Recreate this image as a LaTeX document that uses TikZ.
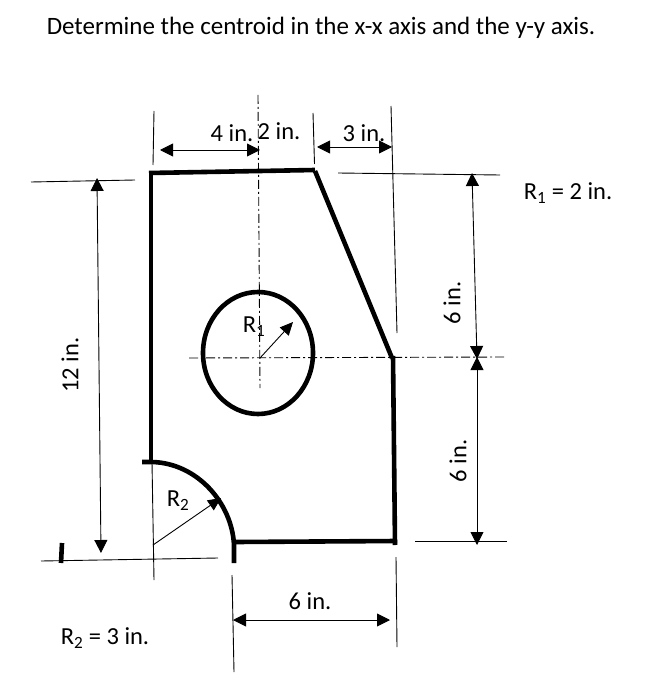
\documentclass[tikz,border=0pt]{standalone}
\usepackage{fontspec}
\setmainfont{Carlito}
\usepackage{tikz}
\usetikzlibrary{arrows.meta}
\tikzset{
    outline/.style={line width=4.6pt},
    thinline/.style={line width=0.9pt},
    centerline/.style={line width=0.9pt, dash pattern=on 9pt off 3pt on 2pt off 3pt},
    dimline/.style={line width=0.9pt, {Triangle[length=13pt,width=13pt]}-{Triangle[length=13pt,width=13pt]}},
    radline/.style={line width=0.9pt, -{Triangle[length=13pt,width=12pt]}},
    lbl/.style={inner sep=0, font=\fontsize{24.5}{28}\selectfont},
    titlelbl/.style={inner sep=0, font=\fontsize{25}{30}\selectfont}
}
\begin{document}
\begin{tikzpicture}[x=1pt, y=-1pt]
\useasboundingbox (0,0) rectangle (657,700);

\node[titlelbl] (title) at (321,28) {Determine the centroid in the x-x axis and the y-y axis.};

% part outline
\draw[outline, line join=bevel] (151,462) -- (151,173);
\draw[outline] (149,173) -- (315,170);
\draw[outline] (315,171) -- (392,358);
\draw[outline] (393,356) -- (395,545);
\draw[outline] (397,541) -- (235,542);
\draw[outline] (142,462) -- (152,462) .. controls (197,463) and (232,503) .. (234,545) -- (234,563);
\draw[outline] (258,353) ellipse [x radius=55, y radius=61];
\draw[outline] (62,543) -- (61,563);

% extension lines
\draw[thinline] (154,111) -- (153,165);
\draw[thinline] (313,113) -- (314.5,164);
\draw[thinline] (391,106) -- (397,333);
\draw[thinline] (31,182) -- (135,180);
\draw[thinline] (338,173) -- (500,175);
\draw[thinline] (415,541) -- (507,541);
\draw[thinline] (41,561) -- (218,558);
\draw[thinline] (152,462) -- (154,580);
\draw[thinline] (232,575) -- (234,672);
\draw[thinline] (396,557) -- (397,647);

% center lines
\draw[centerline] (258,95) -- (260,388);
\draw[centerline] (189,358) -- (505,357);

% dimensions
\draw[dimline] (160,150) -- (260,150);
\draw[dimline] (317,147) -- (392,147);
\draw[dimline] (97,178) -- (101,553);
\draw[dimline] (472,173) -- (477,359);
\draw[dimline] (477,357) -- (477,545);
\draw[dimline] (233,620) -- (390,620);

% radii
\draw[radline] (153,545) -- (221,498);
\draw[radline] (260,358) -- (293,322);

\node[lbl] (fourin) at (232,133) {4 in.};
\node[lbl] (twoin) at (279,131) {2 in.};
\node[lbl] (threein) at (364,133) {3 in.};
\node[lbl] (rone) at (568,193) {R\textsubscript{1} = 2 in.};
\node[lbl, rotate=90] (twelvein) at (70,365) {12 in.};
\node[lbl, rotate=90] (sixup) at (452,303) {6 in.};
\node[lbl, rotate=90] (sixlow) at (458,461) {6 in.};
\node[lbl] (sixbot) at (310,601) {6 in.};
\node[lbl] (rtwolbl) at (178,501) {R\textsubscript{2}};
\node[lbl] (ronelbl) at (254,327) {R\textsubscript{1}};
\node[lbl] (rtwo) at (105,638) {R\textsubscript{2} = 3 in.};

\end{tikzpicture}
\end{document}
